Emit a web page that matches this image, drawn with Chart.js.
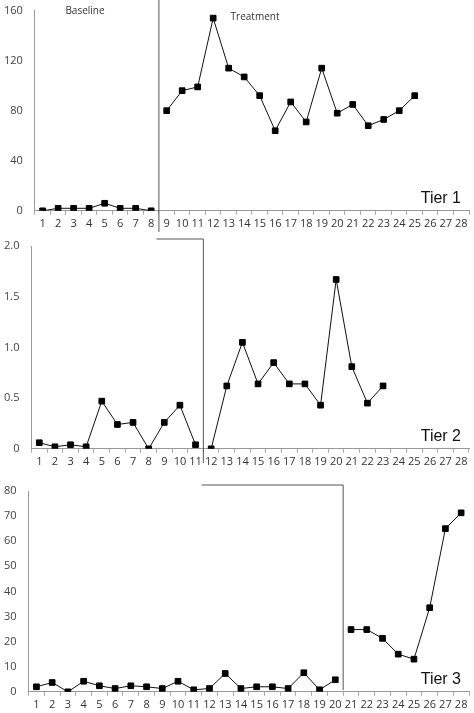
<!DOCTYPE html><html><head><script src="https://cdn.jsdelivr.net/npm/chart.js@4"></script>
<style>body{margin:0;background:#fff;width:474px;height:713px;position:relative;overflow:hidden}
div.c{position:absolute;left:0;width:474px}</style></head><body>
<div class="c" style="top:0;height:232px"><canvas id="c1"></canvas></div>
<div class="c" style="top:232px;height:238px"><canvas id="c2"></canvas></div>
<div class="c" style="top:470px;height:243px"><canvas id="c3"></canvas></div>
<script>
const sessions = Array.from({length:28},(_,i)=>String(i+1));
const tier1Baseline = [0,2,2,2,6,2,2,0];
const tier1Treatment = [80,96,99,154,114,107,92,64,87,71,114,78,85,68,73,80,92];
const tier2Baseline = [0.06,0.02,0.04,0.02,0.47,0.24,0.26,0,0.26,0.43,0.04];
const tier2Treatment = [0,0.62,1.05,0.64,0.85,0.64,0.64,0.43,1.67,0.81,0.45,0.62];
const tier3Baseline = [2,3.7,0,4.2,2.4,1.3,2.4,2,1.3,4.2,0.8,1.3,7.3,1.3,2,2,1.3,7.6,0.8,4.8];
const tier3Treatment = [24.8,24.8,21.3,15,13,33.5,65,71.3];
const yTicks1=[0,40,80,120,160], yTicks2=[0,0.5,1,1.5,2], yTicks3=[0,10,20,30,40,50,60,70,80];

function pad(arr,start){const a=new Array(28).fill(null);arr.forEach((v,i)=>a[start+i]=v);return a;}
function ds(d){return {data:d,borderColor:'#111',borderWidth:1,pointStyle:'rect',pointRadius:4,pointBackgroundColor:'#000',pointBorderColor:'#000',spanGaps:false};}

function make(id,base,treat,ticks,max,tier,phase,top,opts){
  const phasePlugin={id:'ph',afterDraw(ch){
    const c=ch.ctx,x=ch.scales.x,y=ch.scales.y;
    const bx=(x.getPixelForValue(phase-1)+x.getPixelForValue(phase))/2;
    c.save();c.strokeStyle='#555';c.lineWidth=1;c.beginPath();
    if(opts.prev!=null){const px=(x.getPixelForValue(opts.prev-1)+x.getPixelForValue(opts.prev))/2;
      c.moveTo(px,opts.hy);c.lineTo(bx,opts.hy);c.lineTo(bx,opts.bottom);}
    else{c.moveTo(bx,0);c.lineTo(bx,opts.bottom);}
    if(opts.nextTop){}
    c.stroke();
    c.fillStyle='#111';c.font='16px "Liberation Sans", Arial';c.textAlign='right';c.textBaseline='alphabetic';
    c.fillText(tier,ch.chartArea.right-8,y.getPixelForValue(0)-8);
    if(opts.labels){c.font='10px "Open Sans", sans-serif';c.textAlign='center';c.fillStyle='#333';
      c.fillText('Baseline',85,14);c.fillText('Treatment',255,20);}
    c.restore();}};
  new Chart(document.getElementById(id),{type:'line',
    data:{labels:sessions,datasets:[ds(pad(base,0)),ds(pad(treat,phase))]},
    options:{responsive:true,maintainAspectRatio:false,animation:false,
      layout:{padding:{top:top,right:2,left:0,bottom:0}},
      plugins:{legend:{display:false},tooltip:{enabled:false}},
      scales:{
        x:{offset:true,grid:{display:true,drawOnChartArea:false,offset:true,color:'#aaa',tickLength:4},border:{color:'#999'},
          ticks:{color:'#333',font:{size:11,family:'"Open Sans", sans-serif'},maxRotation:0,autoSkip:false,padding:2}},
        y:{min:0,max:max,afterBuildTicks:s=>{s.ticks=ticks.map(v=>({value:v}));},
          grid:{display:false},border:{color:'#999'},
          ticks:{color:'#444',font:{size:11,family:'"Open Sans", sans-serif'},padding:4}}
      }},plugins:[phasePlugin]});
}
make('c1',tier1Baseline,tier1Treatment,yTicks1,160,'Tier 1',8,7,{bottom:232,labels:true});
make('c2',tier2Baseline,tier2Treatment,yTicks2,2,'Tier 2',11,14,{prev:8,hy:7,bottom:231});
make('c3',tier3Baseline,tier3Treatment,yTicks3,80,'Tier 3',20,21,{prev:11,hy:15,bottom:220});
</script></body></html>
